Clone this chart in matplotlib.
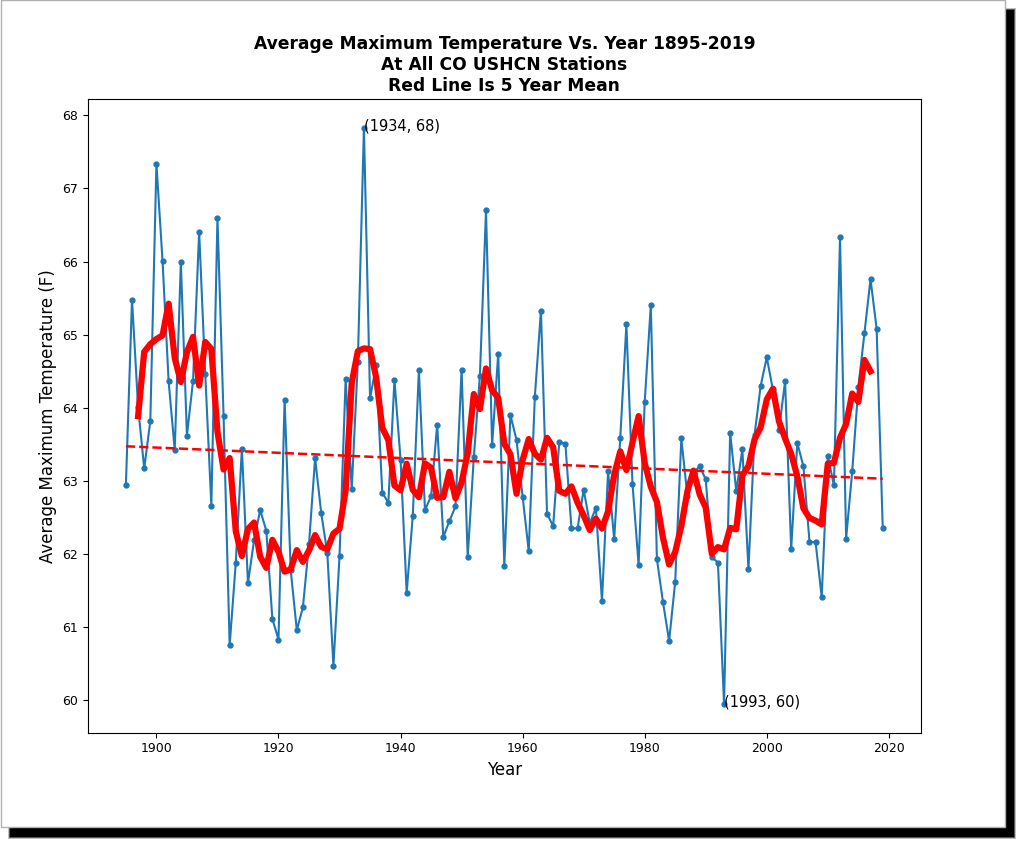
#   plot.py ~~
#
#   Average maximum temperature for each year at all of the Colorado USHCN
#   stations, with a centered 5 year mean (thick red) and a least squares
#   trend line (dashed red).

import matplotlib
matplotlib.use("Agg")

import matplotlib.pyplot as pyplot
from matplotlib.patches import Rectangle
import numpy as np
import pandas as pd

###

first_year = 1895
last_year = 2019

# Annual average maximum temperature (F), 1895 .. 2019
tmax = [
    62.95, 65.48, 64.01, 63.17, 63.82,                              # 1895-1899
    67.34, 66.01, 64.36, 63.42, 65.99, 63.62, 64.37, 66.41, 64.46, 62.66,
    66.60, 63.89, 60.75, 61.88, 63.44, 61.60, 62.19, 62.60, 62.32, 61.11,
    60.83, 64.11, 61.78, 60.96, 61.27, 62.14, 63.31, 62.56, 62.01, 60.47,
    61.97, 64.39, 62.89, 64.63, 67.83, 64.13, 64.58, 62.84, 62.70, 64.38,
    63.29, 61.47, 62.52, 64.51, 62.60, 62.79, 63.77, 62.23, 62.45, 62.65,
    64.52, 61.96, 63.32, 64.44, 66.70, 63.49, 64.74, 61.84, 63.90, 63.56,
    62.78, 62.04, 64.15, 65.33, 62.55, 62.38, 63.53, 63.51, 62.35, 62.35,
    62.88, 62.42, 62.63, 61.36, 63.13, 62.20, 63.59, 65.14, 62.96, 61.85,
    64.08, 65.40, 61.93, 61.34, 60.81, 61.62, 63.58, 62.79, 63.11, 63.20,
    63.02, 61.96, 61.88, 59.95, 63.66, 62.86, 63.43, 61.79, 63.63, 64.30,
    64.69, 64.25, 63.70, 64.36, 62.07, 63.52, 63.20, 62.17, 62.16, 61.41,
    63.34, 62.94, 66.33, 62.21, 63.13, 64.28, 65.02, 65.76, 65.08, 62.36,
]

# Extremes that get a label
label_years = [1934, 1993]
label_texts = ["(1934, 68)", "(1993, 60)"]

###

def add_frame(fig):

  # White card with a hard black drop shadow, like the screenshot border.

    W, H = 1024.0, 846.0
    card_w, card_h = 1004.0, 827.0
    for k, alpha in enumerate([0.25, 0.55, 1.0]):
        grow = 2 - k
        fig.patches.append(Rectangle(
            ((10 - grow) / W, 1 - (837 + grow) / H),
            (card_w + 2 * grow) / W, (card_h + 2 * grow) / H,
            transform=fig.transFigure, facecolor="black", edgecolor="none",
            alpha=alpha, zorder=-20 + k))
    fig.patches.append(Rectangle(
        (0.5 / W, 1 - card_h / H), card_w / W, (card_h - 0.5) / H,
        transform=fig.transFigure, facecolor="white", edgecolor="#b0b0b0",
        linewidth=1.0, zorder=-10))

###

def main():

    years = np.arange(first_year, last_year + 1)
    series = pd.Series(tmax, index=years)

  # Centered 5 year running mean, and a straight line fit through all years

    mean5 = series.rolling(5, center=True).mean()
    slope, intercept = np.polyfit(years, series.values, 1)
    trend = slope * years + intercept

    fig = pyplot.figure(figsize=(10.24, 8.46), dpi=100)
    add_frame(fig)
    ax = fig.add_axes([0.086, 0.134, 0.813, 0.749])

    ax.plot(years, series.values, marker=".", markersize=7, linewidth=1.5,
            color="#1f77b4")
    ax.plot(years, mean5.values, color="red", linewidth=4.5)
    ax.plot(years, trend, color="red", linestyle="--", linewidth=1.8)

    for yr, txt in zip(label_years, label_texts):
        ax.annotate(txt, xy=(yr, series[yr]), xytext=(0, 1),
                    textcoords="offset points", va="center", ha="left",
                    fontsize=10.5)

    ax.set_title("Average Maximum Temperature Vs. Year 1895-2019\n"
                 "At All CO USHCN Stations\nRed Line Is 5 Year Mean",
                 fontsize=12.3, fontweight="bold")
    ax.set_xlabel("Year", fontsize=12)
    ax.set_ylabel("Average Maximum Temperature (F)", fontsize=12)
    ax.tick_params(labelsize=9)

    fig.savefig("out.png", dpi=100)

###

if __name__ == "__main__":
    main()
